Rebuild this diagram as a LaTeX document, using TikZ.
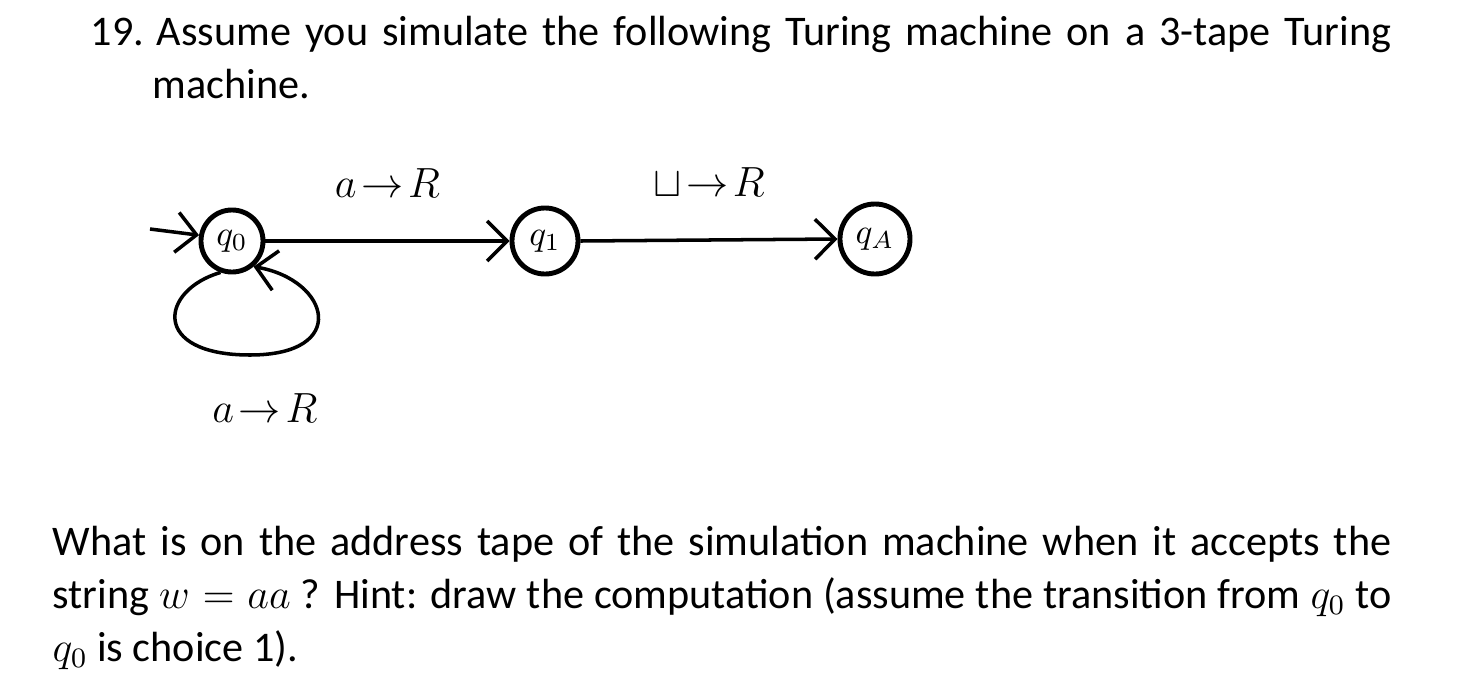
\documentclass[tikz,border=0pt]{standalone}
\usepackage{fontspec}
\setmainfont{Carlito}
\usetikzlibrary{arrows.meta}
\begin{document}
\begin{tikzpicture}[x=0.01cm,y=-0.01cm,
  st/.style={circle,draw,line width=1.4pt,minimum size=0.62cm,inner sep=0pt,font=\fontsize{10}{10}\selectfont},
  tr/.style={line width=1pt,-{Straight Barb[length=2mm]}},
  lab/.style={font=\fontsize{13}{13}\selectfont},
  txt/.style={anchor=base west,inner sep=0pt,font=\fontsize{12}{14}\selectfont}]
\useasboundingbox (0,0) rectangle (1462,681);
\node[txt] (t1) at (90,45) {\makebox[13.0cm][s]{\mbox{19. Assume} you simulate the following Turing machine on a 3-tape Turing}};
\node[txt] (t2) at (152,98) {machine.};
\node[st] (q0) at (232,241) {$q_0$};
\node[st,minimum size=0.66cm] (q1) at (545,241) {$q_1$};
\node[st,minimum size=0.7cm] (qA) at (875,239) {$q_A$};
\coordinate (s) at (150,229);
\draw[tr] (s) -- (q0.170);
\draw[tr] (q0.east) -- (q1.west) node[midway,above=0.3cm,lab] (l1) {$a\!\to\! R$};
\draw[tr] (q1.east) -- (qA.west) node[midway,above=0.3cm,lab] (l2) {$\sqcup\!\to\! R$};
\draw[tr] (q0.250) .. controls (160,290) and (150,355) .. (250,355) .. controls (350,355) and (330,280) .. (q0.-50);
\node[lab] (l3) at (265,408) {$a\!\to\! R$};
\node[txt] (b1) at (52,555) {\makebox[13.38cm][s]{What is on the address tape of the simulation machine when it accepts the}};
\node[txt] (b2) at (52,608) {\makebox[13.38cm][s]{string $w=aa$ ? Hint: draw the computation (assume the transition from $q_0$ to}};
\node[txt] (b3) at (52,661) {$q_0$ is choice 1).};
\end{tikzpicture}
\end{document}
